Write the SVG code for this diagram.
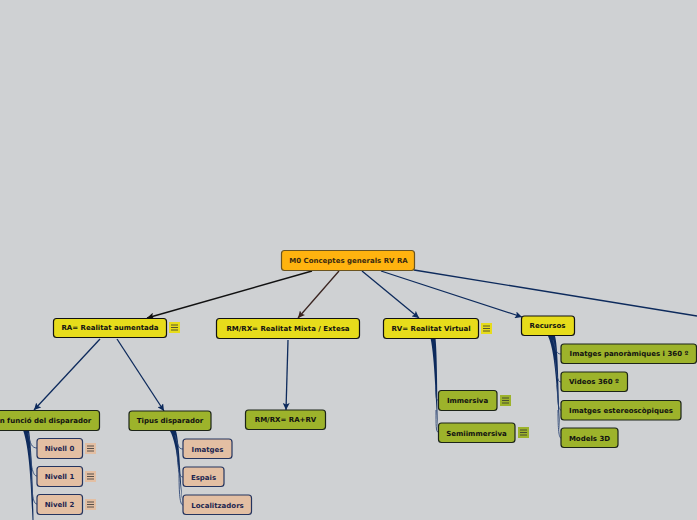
<svg xmlns="http://www.w3.org/2000/svg" width="697" height="520" viewBox="0 0 697 520">
<defs>
<marker id="an" markerUnits="userSpaceOnUse" markerWidth="8" markerHeight="7" refX="7" refY="3.500" orient="auto"><path d="M0 0L7 3.500L0 7L1.500 3.500Z" fill="#0d2a5c"/></marker>
<marker id="ak" markerUnits="userSpaceOnUse" markerWidth="8" markerHeight="7" refX="7" refY="3.500" orient="auto"><path d="M0 0L7 3.500L0 7L1.500 3.500Z" fill="#111"/></marker>
<marker id="ab" markerUnits="userSpaceOnUse" markerWidth="8" markerHeight="7" refX="7" refY="3.500" orient="auto"><path d="M0 0L7 3.500L0 7L1.500 3.500Z" fill="#3a2420"/></marker>
</defs>
<style>
text{font-family:"DejaVu Sans",Verdana,sans-serif;font-weight:700;font-size:7px;fill:#111;text-anchor:middle;dominant-baseline:central}
.b{stroke-width:1.2;rx:3px}
.o{fill:#ffb30f;stroke:#6b5420}
.o+text{fill:#3a2a10}
.y{fill:#e7dc1b;stroke:#111}
.g{fill:#9db32b;stroke:#1c2418}
.p{fill:#e3bfa3;stroke:#24345f}
.p+text{fill:#1c2550}
.l{fill:none;stroke:#0d2a5c;stroke-width:1.3}
.t{fill:#0d2a5c;stroke:none}
.c{fill:none;stroke:#2c4676;stroke-width:.9}
.n{stroke:#333;stroke-width:.8}
</style>
<rect width="697" height="520" fill="#cfd1d3"/>
<g id="connectors">
<path d="M312 271L147 318" fill="none" stroke="#111" stroke-width="1.300" marker-end="url(#ak)"/>
<path d="M339 271L298 318" fill="none" stroke="#3a2420" stroke-width="1.300" marker-end="url(#ab)"/>
<path class="l" d="M362 271L419 318" marker-end="url(#an)"/>
<path class="l" d="M381 271L522 317" marker-end="url(#an)"/>
<path class="l" d="M414 270L697 316"/>
<path class="l" d="M100 339L34 410" marker-end="url(#an)"/>
<path class="l" d="M117 339L164 411" marker-end="url(#an)"/>
<path class="l" d="M288 340L286 410" marker-end="url(#an)"/>
<path class="t" d="M23 430L29 430C32 450 33 490 33.500 520L32.500 520C31 490 30 450 23 430Z"/>
<path class="c" d="M28 433C30 444 32 448 37 448M30 448C31 468 33 476 37 476M31 470C32 495 33 504 37 504"/>
<path class="t" d="M170 431L176 431C180 445 180 480 183 505C179 480 178 445 170 431Z"/>
<path class="c" d="M175 435C178 445 178 449 183 449M177 450C178 470 179 477 183 477M179 470C179 495 180 505 183 505"/>
<path class="t" d="M430.500 338L435.500 338C437.500 360 437 400 438 432C435.500 400 435 360 430.500 338Z"/>
<path class="c" d="M435.500 385C436 398 436 400 438 400M436 410C436 425 436 432 438 432"/>
<path class="t" d="M548 336L555 336C559 350 558 410 561 438C557 410 557 355 548 336Z"/>
<path class="c" d="M553 340C556 350 556 354 561 354M555 360C557 375 557 382 561 382M557 385C558 402 558 410 561 410M558 410C558 430 559 438 561 438"/>
</g>
<g id="n0"><rect class="b o" x="281.500" y="250.500" width="133" height="20"/><text x="348.500" y="260.500">M0 Conceptes generals RV RA</text></g>
<g id="n1"><rect class="b y" x="53.500" y="318.500" width="113" height="19"/><text x="110" y="328">RA= Realitat aumentada</text><rect x="169" y="322" width="11" height="11" fill="#e7dc1b"/><path class="n" d="M171 325H178M171 327.500H178M171 330H178"/></g>
<g id="n2"><rect class="b y" x="216.500" y="318.500" width="143" height="20"/><text x="288" y="328.500">RM/RX= Realitat Mixta / Extesa</text></g>
<g id="n3"><rect class="b y" x="383.500" y="318.500" width="95" height="20"/><text x="431" y="328.500">RV= Realitat Virtual</text><rect x="481" y="323" width="11" height="11" fill="#e7dc1b"/><path class="n" d="M483 326H490M483 328.500H490M483 331H490"/></g>
<g id="n4"><rect class="b y" x="521.500" y="316" width="53" height="19.500"/><text x="547.500" y="326">Recursos</text></g>
<g id="n5"><rect class="b g" x="-20" y="410.500" width="119.500" height="20"/><text x="45.500" y="420.500">n funció del disparador</text></g>
<g id="n6"><rect class="b g" x="129" y="411" width="82" height="19.500"/><text x="170" y="421">Tipus disparador</text></g>
<g id="n7"><rect class="b g" x="245.500" y="410" width="80" height="19.500"/><text x="285.500" y="420">RM/RX= RA+RV</text></g>
<g id="n8"><rect class="b p" x="37" y="438.500" width="45.500" height="20"/><text x="59.500" y="448.500">Nivell 0</text><rect x="85" y="443" width="11" height="11" fill="#e3bfa3"/><path class="n" d="M87 446H94M87 448.500H94M87 451H94"/></g>
<g id="n9"><rect class="b p" x="37" y="466.500" width="45.500" height="20"/><text x="59.500" y="476.500">Nivell 1</text><rect x="85" y="471" width="11" height="11" fill="#e3bfa3"/><path class="n" d="M87 474H94M87 476.500H94M87 479H94"/></g>
<g id="n10"><rect class="b p" x="37" y="494.500" width="45.500" height="20"/><text x="59.500" y="504.500">Nivell 2</text><rect x="85" y="499" width="11" height="11" fill="#e3bfa3"/><path class="n" d="M87 502H94M87 504.500H94M87 507H94"/></g>
<g id="n11"><rect class="b p" x="183" y="439" width="49" height="19.500"/><text x="207.500" y="449.500">Imatges</text></g>
<g id="n12"><rect class="b p" x="183" y="467" width="41" height="19.500"/><text x="203.500" y="477.500">Espais</text></g>
<g id="n13"><rect class="b p" x="183" y="495" width="68.500" height="19.500"/><text x="217.500" y="505.500">Localitzadors</text></g>
<g id="n14"><rect class="b g" x="438.500" y="390.500" width="58.500" height="20"/><text x="467.500" y="400.500">Immersiva</text><rect x="500" y="395" width="11" height="11" fill="#9db32b"/><path class="n" d="M502 398H509M502 400.500H509M502 403H509"/></g>
<g id="n15"><rect class="b g" x="438.500" y="423" width="76.500" height="19.500"/><text x="476.500" y="433.500">Semiimmersiva</text><rect x="518" y="427" width="11" height="11" fill="#9db32b"/><path class="n" d="M520 430H527M520 432.500H527M520 435H527"/></g>
<g id="n16"><rect class="b g" x="561" y="344" width="135.500" height="19.500"/><text x="629" y="354">Imatges panoràmiques i 360 º</text></g>
<g id="n17"><rect class="b g" x="561" y="372" width="66.500" height="19.500"/><text x="594" y="382">Videos 360 º</text></g>
<g id="n18"><rect class="b g" x="561" y="400.500" width="120" height="19.500"/><text x="621" y="410.500">Imatges estereoscòpiques</text></g>
<g id="n19"><rect class="b g" x="561" y="428" width="57" height="19.500"/><text x="589.500" y="438.500">Models 3D</text></g>
</svg>
